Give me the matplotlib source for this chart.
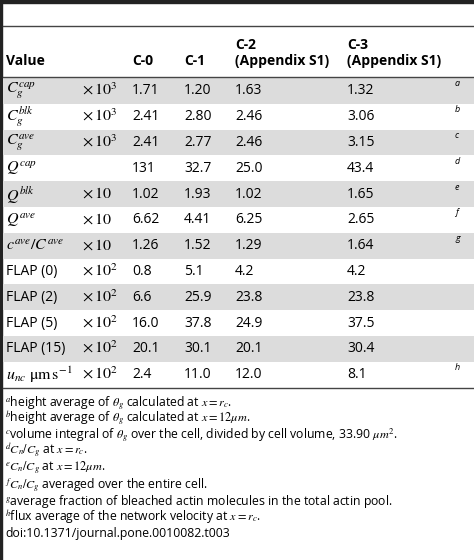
import matplotlib
matplotlib.use("Agg")
import matplotlib.pyplot as plt
from matplotlib.patches import Rectangle

plt.rcParams['font.family'] = ['Open Sans', 'DejaVu Sans']
plt.rcParams['mathtext.fontset'] = 'stix'

# table data
headers = ["Value", "", "C-0", "C-1", "C-2\n(Appendix S1)", "C-3\n(Appendix S1)"]
names = [r"$C_g^{cap}$", r"$C_g^{blk}$", r"$C_g^{ave}$", r"$Q^{cap}$", r"$Q^{blk}$",
         r"$Q^{ave}$", r"$c^{ave}/C^{ave}$", "FLAP (0)", "FLAP (2)", "FLAP (5)",
         "FLAP (15)", r"$u_{nc}\ \mathrm{\mu m\,s^{-1}}$"]
mults = [r"$\times\,10^3$", r"$\times\,10^3$", r"$\times\,10^3$", "", r"$\times\,10$", r"$\times\,10$",
         r"$\times\,10$", r"$\times\,10^2$", r"$\times\,10^2$", r"$\times\,10^2$", r"$\times\,10^2$",
         r"$\times\,10^2$"]
c0 = ["1.71", "2.41", "2.41", "131", "1.02", "6.62", "1.26", "0.8", "6.6", "16.0", "20.1", "2.4"]
c1 = ["1.20", "2.80", "2.77", "32.7", "1.93", "4.41", "1.52", "5.1", "25.9", "37.8", "30.1", "11.0"]
c2 = ["1.63", "2.46", "2.46", "25.0", "1.02", "6.25", "1.29", "4.2", "23.8", "24.9", "20.1", "12.0"]
c3 = ["1.32", "3.06", "3.15", "43.4", "1.65", "2.65", "1.64", "4.2", "23.8", "37.5", "30.4", "8.1"]
notes = ["a", "b", "c", "d", "e", "f", "g", "", "", "", "", "h"]
footnotes = [
    (r"$^a$height average of $\theta_g$ calculated at $x=r_c$."),
    (r"$^b$height average of $\theta_g$ calculated at $x=12\mu m$."),
    (r"$^c$volume integral of $\theta_g$ over the cell, divided by cell volume, 33.90 $\mu m^2$."),
    (r"$^dC_n/C_g$ at $x=r_c$."),
    (r"$^eC_n/C_g$ at $x=12\mu m$."),
    (r"$^fC_n/C_g$ averaged over the entire cell."),
    (r"$^g$average fraction of bleached actin molecules in the total actin pool."),
    (r"$^h$flux average of the network velocity at $x=r_c$."),
    "doi:10.1371/journal.pone.0010082.t003",
]

fig = plt.figure(figsize=(4.74, 5.6), dpi=100)
ax = fig.add_axes([0, 0, 1, 1])
ax.set_xlim(0, 474)
ax.set_ylim(560, 0)
ax.axis('off')

ax.add_patch(Rectangle((0, 0), 474, 2.5, color='#222222'))
ax.add_patch(Rectangle((0, 0), 2.5, 560, color='#222222'))
ax.plot([3, 474], [26, 26], color='#444444', lw=1)
ax.plot([3, 474], [77, 77], color='#444444', lw=1)

xs = [6, 82, 132, 184, 235, 347]
ax.text(xs[0], 61, headers[0], fontsize=10, fontweight='bold', va='center')
for x, h in zip(xs[2:], headers[2:]):
    ax.text(x, 61 if '\n' not in h else 53, h, fontsize=10, fontweight='bold', va='center',
            linespacing=1.25)

row_h = 25.8
top = 78
for i in range(len(names)):
    y0 = top + i * row_h
    if i % 2 == 0:
        ax.add_patch(Rectangle((3, y0), 471, row_h, color='#dcdcdc', lw=0))
    yc = y0 + row_h / 2
    ax.text(xs[0], yc, names[i], fontsize=11.5 if names[i].startswith('$') else 10, va='center')
    ax.text(xs[1], yc, mults[i], fontsize=11.5, va='center')
    for x, col in zip(xs[2:], [c0, c1, c2, c3]):
        ax.text(x, yc, col[i], fontsize=10, va='center')
    ax.text(455, yc - 7, notes[i], fontsize=6.5, style='italic', va='center')

ybot = top + len(names) * row_h
ax.plot([3, 474], [ybot, ybot], color='#444444', lw=1)

for j, f in enumerate(footnotes):
    ax.text(5, ybot + 15 + j * 16.4, f, fontsize=8.8, va='center')

fig.savefig('out.png', dpi=100)
